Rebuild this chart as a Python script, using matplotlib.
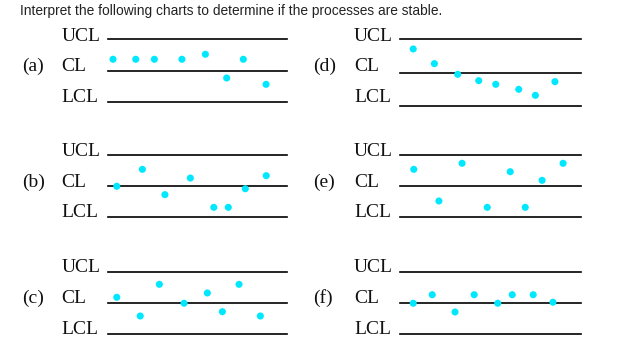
import matplotlib
matplotlib.use("Agg")
import matplotlib.pyplot as plt

W, H = 638, 361

title = "Interpret the following charts to determine if the processes are stable."
panel_labels = ["(a)", "(b)", "(c)", "(d)", "(e)", "(f)"]
limit_labels = ["UCL", "CL", "LCL"]
ucl, cl, lcl = 3.0, 0.0, -3.0

# sample positions (0..10 across the chart) and values (sigma units, CL = 0)
a_x = [0.28, 1.55, 2.59, 4.13, 5.44, 6.63, 7.56, 8.83]
a_y = [1.08, 1.08, 1.08, 1.08, 1.56, -0.72, 1.08, -1.33]
b_x = [0.49, 1.92, 3.18, 4.60, 5.91, 6.72, 7.67, 8.84]
b_y = [-0.01, 1.62, -0.82, 0.78, -2.04, -2.04, -0.25, 1.01]
c_x = [0.49, 1.80, 2.87, 4.25, 5.55, 6.39, 7.32, 8.51]
c_y = [0.57, -1.25, 1.83, -0.01, 0.99, -0.83, 1.83, -1.25]
d_x = [0.73, 1.90, 3.19, 4.35, 5.29, 6.56, 7.48, 8.56]
d_y = [2.13, 0.81, -0.15, -0.72, -1.05, -1.50, -2.04, -0.81]
e_x = [0.76, 2.15, 3.43, 4.82, 6.09, 6.92, 7.85, 9.01]
e_y = [1.62, -1.43, 2.20, -2.04, 1.39, -2.04, 0.56, 2.20]
f_x = [0.73, 1.78, 3.04, 4.10, 5.40, 6.20, 7.36, 8.45]
f_y = [-0.01, 0.82, -0.86, 0.82, -0.01, 0.82, 0.82, 0.09]

series = [(a_x, a_y), (b_x, b_y), (c_x, c_y), (d_x, d_y), (e_x, e_y), (f_x, f_y)]

# layout (pixels): chart line extents and label baselines
col_line = [(108, 287), (400, 581)]
col_text = [61.7, 354]
col_tag = [22, 313]
row_lines = [[(39.3, 101.7), (39.3, 106.0)],
             [(155.0, 217.3), (155.0, 217.3)],
             [(272.3, 334.0), (272.3, 334.0)]]
row_base = [[41.0, 71.4, 102.5], [155.7, 186.7, 217.3], [272.3, 303.3, 334.3]]

fig = plt.figure(figsize=(W / 100, H / 100), dpi=100)
fig.patch.set_facecolor("white")

def fx(px):
    return px / W

def fy(py):
    return 1 - py / H

fig.text(fx(20), fy(14.7), title, fontsize=9.95, family="Liberation Sans",
         color="#222222", ha="left", va="baseline")

serif = "Liberation Serif"
cyan = "#00e8ff"

for i, (xs, ys) in enumerate(series):
    col, row = divmod(i, 3)
    x0, x1 = col_line[col]
    top, bot = row_lines[row][col]
    ax = fig.add_axes([fx(x0), fy(bot), (x1 - x0) / W, (bot - top) / H])
    ax.set_xlim(0, 10)
    ax.set_ylim(lcl, ucl)
    ax.axis("off")
    for v in (ucl, cl, lcl):
        ax.axhline(v, color="black", lw=1.2, clip_on=False)
    ax.scatter(xs, ys, s=26, color=cyan, edgecolors="none", zorder=3, clip_on=False)
    for lab, base in zip(limit_labels, row_base[row]):
        fig.text(fx(col_text[col]), fy(base), lab, fontsize=14, family=serif,
                 color="#111111", ha="left", va="baseline")
    fig.text(fx(col_tag[col]), fy(row_base[row][1]), panel_labels[i], fontsize=14,
             family=serif, color="#111111", ha="left", va="baseline")

fig.savefig("out.png", dpi=100)
